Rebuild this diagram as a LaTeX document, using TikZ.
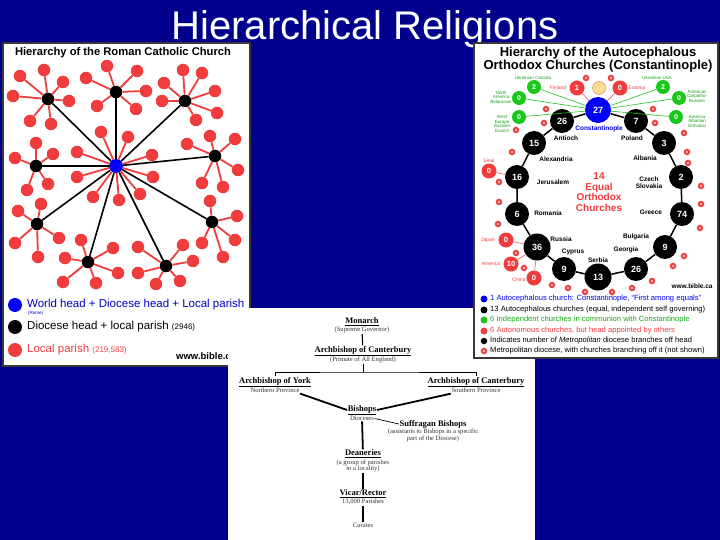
\documentclass[tikz,border=0pt]{standalone}
\usepackage{fontspec}
\setmainfont{Liberation Sans}
\newfontfamily\timesfont{Liberation Serif}
\usetikzlibrary{positioning}

\definecolor{slideblue}{RGB}{0,0,140}
\definecolor{parishred}{RGB}{240,60,60}
\definecolor{worldblue}{RGB}{0,0,250}
\definecolor{orthgreen}{RGB}{25,200,25}
\definecolor{framegray}{RGB}{55,55,60}

\newcommand{\fsz}[1]{\fontsize{#1}{#1}\selectfont}
% a hub with its local parishes
\newcommand{\parishes}[2]{%
  \foreach \px/\py [count=\k] in {#2} {%
    \node[parish] (#1-\k) at (\px,\py) {};
    \draw[spoke] (#1) -- (#1-\k);
  }}

\tikzset{
  parish/.style={circle, fill=parishred, inner sep=0pt, minimum size=12.5pt},
  diocese/.style={circle, fill=black, inner sep=0pt, minimum size=12.5pt},
  world/.style={circle, fill=worldblue, inner sep=0pt, minimum size=14pt},
  spoke/.style={draw=parishred, line width=1.8pt},
  link/.style={draw=black, line width=1.6pt},
  auto/.style={circle, fill=black, text=white, inner sep=0pt, minimum size=24pt, font=\bfseries\fsz{9}},
  first/.style={auto, fill=worldblue, minimum size=26pt},
  indep/.style={circle, fill=orthgreen, text=white, inner sep=0pt, minimum size=14pt, font=\bfseries\fsz{7}},
  autonom/.style={circle, fill=parishred, text=white, inner sep=0pt, minimum size=15pt, font=\bfseries\fsz{7.5}},
  metro/.style={circle, fill=parishred, draw=white, line width=0.3pt, text=white, inner sep=0pt, minimum size=7pt, font=\bfseries\fsz{3}},
  place/.style={font=\bfseries\fsz{6.5}, inner sep=0pt},
  glabel/.style={text=orthgreen!80!black, font=\fsz{4.5}, align=center, inner sep=0pt},
  rlabel/.style={text=parishred, font=\fsz{5}, inner sep=0pt},
  ring/.style={draw=black, line width=1.5pt},
  glink/.style={draw=orthgreen, line width=0.6pt},
  rlink/.style={draw=parishred, line width=0.5pt},
  legtext/.style={anchor=west, font=\fsz{7.6}, inner sep=0pt},
  head/.style={font=\timesfont\bfseries\fsz{8.5}, inner sep=0.5pt},
  sub/.style={font=\timesfont\fsz{6.6}, text=black!80, align=center, inner sep=0.5pt},
  thin/.style={draw=black, line width=0.7pt},
  bar/.style={draw=black, line width=1.8pt}
}

\begin{document}
\begin{tikzpicture}[x=1pt, y=-1pt]
  \useasboundingbox (0,0) rectangle (720,540);
  \fill[slideblue] (0,0) rectangle (720,540);
  \node[text=white, font=\fsz{40}, anchor=base, inner sep=0pt] (title) at (365,40) {Hierarchical Religions};

  % Roman Catholic
  \draw[fill=white, draw=framegray, line width=1.5pt] (3,43) rectangle (250,366);
  \node[font=\bfseries\fsz{11.2}, inner sep=0pt] (rctitle) at (123,53) {Hierarchy of the Roman Catholic Church};
  \node[world] (rome) at (116,166) {};
  \foreach \n/\x/\y in {dA/48/99, dB/116/92, dC/185/101, dD/215/156, dE/36/166, dF/37/224, dG/88/262, dH/166/266, dI/212/222}
    \node[diocese] (\n) at (\x,\y) {};
  \parishes{rome}{101/132, 128/137, 152/155, 153/177, 140/194, 119/200, 93/197, 77/177, 77/152}
  \parishes{dA}{20/76, 44/70, 63/82, 69/101, 51/124, 30/121, 13/96}
  \parishes{dB}{86/78, 107/66, 137/71, 146/91, 136/109, 97/106}
  \parishes{dC}{183/70, 202/73, 215/91, 217/113, 196/120, 162/101, 164/83}
  \parishes{dD}{187/144, 210/136, 235/139, 238/170, 223/187, 202/183}
  \parishes{dE}{36/143, 53/154, 15/158, 48/184, 27/190}
  \parishes{dF}{18/211, 41/204, 59/238, 38/257, 15/243}
  \parishes{dG}{81/240, 65/258, 63/282, 96/283, 118/273, 113/248}
  \parishes{dH}{138/247, 183/245, 193/261, 180/281, 156/284, 138/273}
  \parishes{dI}{210/201, 237/216, 235/240, 223/257, 202/243}
  \foreach \n in {dA, dB, dC, dD, dE, dF, dG, dH, dI}
    \draw[link] (rome) -- (\n);
  \node[world] (kW) at (15,305) {};
  \node[legtext, text=worldblue!80!black, font=\fsz{11.5}] (tW) at (27,305) {World head + Diocese head + Local parish};
  \node[legtext, text=worldblue!80!black, font=\fsz{4.5}] (tRome) at (28,313) {(Rome)};
  \node[diocese, minimum size=14pt] (kD) at (15,327) {};
  \node[legtext, font=\fsz{11.5}] (tD) at (27,327) {Diocese head + local parish {\fsz{8}(2946)}};
  \node[parish, minimum size=14pt] (kP) at (15,350) {};
  \node[legtext, text=parishred, font=\fsz{11.5}] (tP) at (27,350) {Local parish {\fsz{8}(219,583)}};
  \node[legtext, font=\bfseries\fsz{9.5}] (tWeb) at (176,356) {www.bible.ca};

  % Church of England
  \fill[white] (228,308) rectangle (535,540);
  \node[head] (monH) at (362,322) {\underline{Monarch}};
  \node[sub, below=0pt of monH] (monS) {(Supreme Governor)};
  \node[head] (abcH) at (363,351) {\underline{Archbishop of Canterbury}};
  \node[sub, below=0pt of abcH] (abcS) {(Primate of All England)};
  \node[head] (yorkH) at (275,382) {\underline{Archbishop of York}};
  \node[sub, below=0pt of yorkH] (yorkS) {Northern Province};
  \node[head] (cantH) at (476,382) {\underline{Archbishop of Canterbury}};
  \node[sub, below=0pt of cantH] (cantS) {Southern Province};
  \node[head] (bishH) at (362,410) {\underline{Bishops}};
  \node[sub, below=0pt of bishH] (bishS) {Dioceses};
  \node[head] (sufH) at (433,424) {Suffragan Bishops};
  \node[sub, below=0pt of sufH] (sufS) {(assistants to Bishops in a specific\\part of the Diocese)};
  \node[head] (deanH) at (363,454) {\underline{Deaneries}};
  \node[sub, below=0pt of deanH] (deanS) {(a group of parishes\\in a locality)};
  \node[head] (vicH) at (363,494) {\underline{Vicar/Rector}};
  \node[sub, below=0pt of vicH] (vicS) {13,000 Parishes};
  \node[sub] (cur) at (363,525) {Curates};
  \coordinate (split) at (363,372);
  \draw[thin, line width=1.1pt] (monS) -- (abcH);
  \draw[thin] (abcS) -- (split);
  \draw[thin] (yorkH.north) |- (split) -| (cantH.north);
  \draw[bar] (yorkS.south east) -- (bishH.west);
  \draw[bar] (cantS.south west) -- (bishH.east);
  \draw[thin] (bishS.east) -- (sufH.west);
  \draw[bar] (bishS) -- (deanH);
  \draw[bar] (deanS) -- (vicH);
  \draw[bar] (vicS) -- (cur);

  % Orthodox
  \draw[fill=white, draw=framegray, line width=1.5pt] (474,43) rectangle (718,358);
  \node[font=\bfseries\fontsize{13}{13}\selectfont, align=center, inner sep=0pt] (otitle) at (598,59.5) {Hierarchy of the Autocephalous\\Orthodox Churches (Constantinople)};
  \node[first] (con) at (598,110) {27};
  \node[auto] (ant) at (562,121) {26};
  \node[auto] (pol) at (636,121) {7};
  \node[auto] (alx) at (534,143) {15};
  \node[auto] (alb) at (664,143) {3};
  \node[auto] (jer) at (517,177) {16};
  \node[auto] (cze) at (681,177) {2};
  \node[auto] (rmn) at (517,214) {6};
  \node[auto] (gre) at (682,214) {74};
  \node[auto, minimum size=27pt] (rus) at (537,247) {36};
  \node[auto] (bul) at (665,247) {9};
  \node[auto] (cyp) at (564,269) {9};
  \node[auto] (geo) at (636,269) {26};
  \node[auto, minimum size=27pt] (ser) at (598,277) {13};
  \draw[ring] (con) -- (pol) -- (alb) -- (cze) -- (gre) -- (bul) -- (geo) -- (ser) -- (cyp) -- (rus) -- (rmn) -- (jer) -- (alx) -- (ant) -- (con);
  \node[place, text=worldblue!85!black] at (599,129) {Constantinople};
  \node[place] at (566,138) {Antioch};
  \node[place] at (632,138) {Poland};
  \node[place] at (556,159) {Alexandria};
  \node[place] at (645,158) {Albania};
  \node[place] at (553,182) {Jerusalem};
  \node[place, align=center, font=\bfseries\fontsize{6.5}{7}\selectfont] at (649,183) {Czech\\Slovakia};
  \node[place] at (548,213) {Romania};
  \node[place] at (651,212) {Greece};
  \node[place] at (561,239) {Russia};
  \node[place] at (636,237) {Bulgaria};
  \node[place] at (573,252) {Cyprus};
  \node[place] at (626,250) {Georgia};
  \node[place] at (598,260) {Serbia};
  \node[text=parishred, font=\bfseries\fontsize{10}{10.5}\selectfont, align=center, inner sep=0pt] (equal) at (599,192) {14\\Equal\\Orthodox\\Churches};
  % communion and autonomous churches
  \node[circle, fill=yellow!40!orange!40, draw=brown, inner sep=0pt, minimum size=13pt] (emb) at (599,88) {};
  \node[indep] (ukc) at (534,87) {2};
  \node[indep] (nab) at (519,98) {0};
  \node[indep] (wer) at (519,117) {0};
  \node[indep] (uku) at (663,87) {2};
  \node[indep] (acr) at (679,98) {0};
  \node[indep] (aao) at (676,117) {0};
  \node[autonom] (fin) at (577,88) {1};
  \node[autonom] (est) at (620,88) {0};
  \node[autonom] (sin) at (489,171) {0};
  \node[autonom] (jap) at (506,240) {0};
  \node[autonom] (ame) at (511,264) {10};
  \node[autonom] (chi) at (534,278) {0};
  \foreach \n in {ukc, nab, wer, uku, acr, aao}
    \draw[glink] (\n) -- (con);
  \draw[rlink] (fin) -- (con);
  \draw[rlink] (est) -- (con);
  \draw[rlink] (sin) -- (jer);
  \foreach \n in {jap, ame, chi}
    \draw[rlink] (\n) -- (rus);
  \node[glabel] at (533,78) {Ukrainian Canada};
  \node[glabel] at (501,97) {North\\America\\Belarusian};
  \node[glabel] at (502,124) {West\\Europe\\Russian\\Exarch};
  \node[glabel] at (657,78) {Ukrainian USA};
  \node[glabel] at (697,96) {American\\Carpatho-\\Russian};
  \node[glabel] at (697,121) {America\\Albanian\\Orthodox};
  \node[rlabel] at (558,88) {Finland};
  \node[rlabel] at (637,88) {Estonia};
  \node[rlabel] at (489,161) {Sinai};
  \node[rlabel] at (488,240) {Japan};
  \node[rlabel] at (491,264) {America};
  \node[rlabel] at (519,280) {China};
  % metropolitan dioceses
  \foreach \x/\y [count=\k] in {586/78, 611/78, 546/109, 544/123, 653/109, 655/123, 516/130, 512/152, 684/133, 687/152,
      499/182, 499/202, 688/163, 701/186, 701/204, 700/228, 498/224, 516/253, 524/268, 552/285, 568/288, 585/292, 612/292,
      632/288, 652/281, 673/266, 684/256}
    \node[metro] (m\k) at (\x,\y) {M};
  \node[font=\bfseries\fsz{6.5}, inner sep=0pt] (oweb) at (692,286) {www.bible.ca};
  % legend
  \node[circle, fill=worldblue, inner sep=0pt, minimum size=7pt] (l1) at (484,299) {};
  \node[legtext, text=worldblue] at (490,299) {1 Autocephalous church: Constantinople, ``First among equals''};
  \node[circle, fill=black, inner sep=0pt, minimum size=7pt] (l2) at (484,310) {};
  \node[legtext] at (490,310) {13 Autocephalous churches (equal, independent self governing)};
  \node[circle, fill=orthgreen, inner sep=0pt, minimum size=7pt] (l3) at (484,320) {};
  \node[legtext, text=orthgreen!85!black] at (490,320) {6 Independent churches in communion with Constantinople};
  \node[circle, fill=parishred, inner sep=0pt, minimum size=7pt] (l4) at (484,331) {};
  \node[legtext, text=parishred] at (490,331) {6 Autonomous churches, but head appointed by others};
  \node[circle, fill=black, draw=white, line width=0.4pt, inner sep=0pt, minimum size=7pt] (l5) at (484,341) {};
  \node[legtext] at (490,341) {Indicates number of \textit{Metropolitan} diocese branches off head};
  \node[metro] (l6) at (484,351) {M};
  \node[legtext] at (490,351) {Metropolitan diocese, with churches branching off it (not shown)};
\end{tikzpicture}
\end{document}
